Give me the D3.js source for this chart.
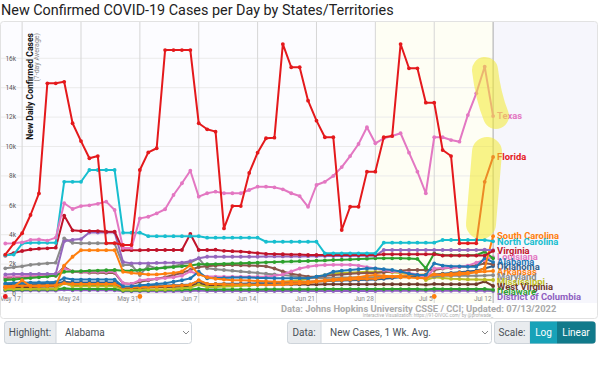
<!DOCTYPE html>
<html>
<head>
<meta charset="utf-8">
<script src="https://cdn.jsdelivr.net/npm/d3@7"></script>
<style>
  body { margin: 0; background: #fff; }
  svg { display: block; font-family: Roboto, "Helvetica Neue", Arial, sans-serif; }
</style>
</head>
<body>
<div id="chart"></div>
<script>
// ---- data (7-day average of new cases, May 15 - Jul 12, 2022) ----
const firstDay = "2022-05-15";
const xTickDays = ["2022-05-17", "2022-05-24", "2022-05-31", "2022-06-07", "2022-06-14",
  "2022-06-21", "2022-06-28", "2022-07-05", "2022-07-12"];
const yTicks = [0, 2000, 4000, 6000, 8000, 10000, 12000, 14000, 16000];
const bandStart = "2022-06-28";
const eventDays = ["2022-05-15", "2022-05-31", "2022-07-05"];

const florida = [2650,3400,4100,5340,6810,14300,14300,14400,11580,10370,9200,9350,3410,3430,
  3300,3300,8400,9600,9880,16560,16560,16560,16560,11580,
  11170,11010,4430,5950,5950,8200,9580,10560,10600,16970,15390,15390,13120,11760,10630,10630,4320,5900,5900,8290,8290,
  10630,10710,16970,15320,15320,12980,12980,9760,9350,3410,3410,3410,7600,9290];
const texas = [3400,3420,3480,3650,3680,3600,3800,6140,5750,5950,6000,6100,6250,5680,
  3100,3100,5110,5220,5450,5730,6700,7500,8350,6590,
  6820,6930,6820,6820,6820,7040,7270,7270,7220,7090,6820,6630,5900,7380,7600,8000,8600,9350,10170,11310,10220,
  10560,10710,10900,9580,8290,6820,10630,10630,10440,10330,12140,13620,15430,12070];
const northCarolina = [2600,2650,3400,3450,3450,3450,3450,7600,7600,7600,8400,8400,8400,8400,
  4140,4140,4140,3900,3900,3900,3900,3900,3900,3900,
  3800,3800,3800,3800,3800,3800,3800,3520,3520,3520,3520,3520,3520,3520,2730,2730,2730,2730,2730,2730,2730,
  3460,3460,3460,3460,3460,3460,3460,3640,3640,3640,3640,3640,3640,3550];
const virginia = [2570,2750,2890,3000,3050,3070,3120,5300,4300,4250,4250,4250,4200,4200,
  2950,2950,2950,2960,2960,2960,2960,2960,4050,2960,
  2960,2980,2900,2880,2850,2800,2750,2700,2680,2670,2650,2650,2620,2620,2620,2620,2620,2620,2620,2620,2620,
  2670,2670,2670,2670,2670,2670,2670,2580,2580,2580,2580,2580,2580,2900];
const tennessee = [1300,1320,1330,1330,1330,1330,1350,3550,3650,3700,4150,4150,4150,4150,
  2150,2050,2050,2050,2080,2100,2100,2100,2200,2400,
  2500,2500,2500,2500,2500,2500,2500,2520,2520,2520,2520,2520,2540,2540,2550,2550,2550,2550,2560,2560,2560,
  2960,2960,2960,2960,2960,2960,2960,2960,2960,2960,2960,2960,2980,2950];
const maryland = [1710,1780,1850,1950,2000,2050,2100,3750,3450,3420,3420,3420,3420,3400,
  1940,1940,1260,1900,1700,1800,1850,2000,2100,2390,
  1710,1650,1600,1550,1500,1450,1400,1350,1300,1250,1200,1100,1030,1050,1060,1070,1080,1090,1100,1100,1100,
  1150,1150,1150,1150,1150,1150,1150,1200,1200,1200,1200,1200,1220,1250];
const alabama = [700,720,730,740,750,760,780,1050,950,950,950,950,950,950,
  480,500,560,600,650,700,800,900,1030,1480,
  1030,1050,1060,1080,1080,1080,1060,1050,1040,1030,1030,1030,1030,1150,1250,1480,1550,1600,1650,1700,1710,
  1650,1600,1500,1350,1260,1260,2050,1900,1850,1850,1820,1820,2400,2140];
const louisiana = [1150,1150,1180,1200,1200,1220,1250,1710,1500,1480,1480,1480,1480,1480,
  700,650,900,950,1000,1050,1100,1200,1500,1300,
  1150,1150,1140,1140,1140,1140,1140,1150,1200,1300,1500,1700,1820,1900,1940,1950,1950,1950,1900,1800,1700,
  1600,1500,1480,1400,1300,1050,1700,1730,1750,1800,1900,2100,2280,2480];
const georgia = [920,960,1000,1050,1100,1150,1220,1480,1500,1520,1540,1560,1580,1600,
  1550,1550,1600,1650,1700,1750,1800,1850,1900,1990,
  1990,2000,2020,2040,2060,2080,2100,2120,2140,2160,2180,2200,2210,2230,2250,2280,2300,2320,2340,2370,2390,
  2390,2390,2390,2380,2350,1710,2730,2600,2600,2600,2600,2600,2840,2390];
const kentucky = [1050,1080,1100,1120,1150,1180,1200,1820,1480,1450,1420,1420,1400,1400,
  690,650,800,900,1000,1100,1260,1400,1600,1800,
  1850,1900,1940,1940,1920,1900,1880,1850,1700,1500,1350,1250,1150,1140,1200,1250,1300,1350,1380,1400,1400,
  1450,1500,1550,1600,1600,1600,1600,1700,1750,1800,1850,1900,2050,1990];
const southCarolina = [400,450,900,500,500,520,540,1900,2500,2950,2950,2950,2950,2950,
  1480,1400,1350,1300,1300,1350,1400,1500,1940,1300,
  1100,1000,950,900,900,880,850,830,800,800,800,800,800,850,900,950,1000,1050,1100,1200,1260,
  1200,1150,1100,1080,1050,1030,1300,1250,1250,1300,1350,1480,1730,3900];
const arkansas = [500,510,520,530,540,550,560,700,650,650,650,650,650,650,
  400,400,420,450,480,500,520,550,600,900,
  650,640,630,620,620,610,600,600,600,620,650,680,700,800,850,900,920,950,980,1000,1000,
  1100,1150,1200,1250,1280,1300,1300,1300,1350,1400,1420,1450,1500,1530];
const oklahoma = [600,610,620,630,640,650,660,800,750,750,750,750,740,740,
  450,450,480,500,520,540,560,580,620,850,
  650,650,660,660,670,680,690,700,720,740,760,780,800,820,840,860,880,900,920,940,950,
  1000,1050,1100,1150,1200,1220,1300,1350,1400,1450,1500,1550,1700,1870];
const mississippi = [300,300,310,310,320,320,330,700,500,500,500,500,500,500,
  250,250,260,270,280,290,300,350,400,600,
  450,450,480,500,520,550,600,650,700,800,850,900,1000,1150,1250,1370,1400,1420,1450,1480,1480,
  1480,1450,1400,1350,1300,920,1100,1050,1000,980,960,950,940,920];
const westVirginia = [420,430,440,450,460,470,480,700,560,550,550,550,550,550,
  350,350,380,400,420,440,460,480,500,700,
  550,560,570,580,590,600,610,620,620,620,620,620,620,620,630,630,630,630,630,630,630,
  630,630,630,630,630,600,650,630,630,630,630,630,820,510];
const delaware = [250,255,260,265,270,275,280,350,300,300,300,300,300,300,
  200,200,210,220,230,240,250,260,270,320,
  280,280,280,280,280,280,280,290,290,290,290,290,290,290,300,300,300,300,300,300,300,
  300,300,300,300,300,280,320,300,300,300,300,300,310,250];
const districtOfColumbia = [200,200,200,200,200,200,200,260,220,220,220,220,220,220,
  150,150,150,160,160,160,160,160,170,200,
  170,170,170,170,170,170,170,170,170,170,170,170,170,170,170,170,170,170,170,170,170,
  180,180,180,180,180,180,180,180,180,180,180,180,180,170];

// drawn bottom to top; label=false means the name tag is hidden by overlap in the original
const states = [
  { name: "District of Columbia", values: districtOfColumbia, color: "#8e5fc0", label: true },
  { name: "Delaware", values: delaware, color: "#2ca02c", label: true },
  { name: "West Virginia", values: westVirginia, color: "#6e3a2a", label: true },
  { name: "Mississippi", values: mississippi, color: "#bcbd22", label: true },
  { name: "Maryland", values: maryland, color: "#8a8a8a", label: true },
  { name: "Oklahoma", values: oklahoma, color: "#2f5f8f", label: true },
  { name: "Arkansas", values: arkansas, color: "#ff7f0e", label: true },
  { name: "Kentucky", values: kentucky, color: "#8c564b", label: false },
  { name: "Louisiana", values: louisiana, color: "#e377c2", label: true },
  { name: "Alabama", values: alabama, color: "#1f77b4", label: true },
  { name: "Georgia", values: georgia, color: "#2ca02c", label: false },
  { name: "South Carolina", values: southCarolina, color: "#ff7f0e", label: true },
  { name: "Tennessee", values: tennessee, color: "#9467bd", label: false },
  { name: "Virginia", values: virginia, color: "#c0132a", label: true },
  { name: "North Carolina", values: northCarolina, color: "#17becf", label: true },
  { name: "Texas", values: texas, color: "#e377c2", label: true },
  { name: "Florida", values: florida, color: "#e4191c", label: true }
];

// ---- chart ----
const W = 600, H = 384;
const parse = d3.timeParse("%Y-%m-%d");
const day0 = parse(firstDay);
const dates = d3.timeDay.range(day0, d3.timeDay.offset(day0, florida.length));
const plot = { left: 1, right: 493, top: 22, bottom: 303, edge: 597 };

const x = d3.scaleTime().domain([dates[0], dates[dates.length - 1]]).range([5.3, 493.1]);
const y = d3.scaleLinear().domain([0, 16000]).range([293.5, 58.3]);

const svg = d3.select("#chart").append("svg").attr("width", W).attr("height", H);

const title = svg.append("text")
  .attr("x", 1).attr("y", 15)
  .attr("font-size", 15).attr("fill", "#222")
  .text("New Confirmed COVID-19 Cases per Day by States/Territories");
// fit the title to the width it takes in the original
const tw = title.node().getComputedTextLength();
title.attr("font-size", 15 * 393 / tw);

// backgrounds
svg.append("rect").attr("x", plot.left).attr("y", plot.top)
  .attr("width", plot.right - plot.left).attr("height", plot.bottom - plot.top).attr("fill", "#fcfcff");
svg.append("rect").attr("x", x(parse(bandStart))).attr("y", plot.top)
  .attr("width", plot.right - x(parse(bandStart))).attr("height", plot.bottom - plot.top).attr("fill", "#fefef4");
svg.append("rect").attr("x", plot.right).attr("y", plot.top)
  .attr("width", plot.edge - plot.right).attr("height", plot.bottom - plot.top).attr("fill", "#f6f6fc");

// grid
svg.append("g").selectAll("line").data(yTicks).join("line")
  .attr("x1", plot.left).attr("x2", plot.right)
  .attr("y1", d => y(d)).attr("y2", d => y(d))
  .attr("stroke", "#ebebeb");

svg.append("g").selectAll("line").data(xTickDays).join("line")
  .attr("x1", d => x(parse(d))).attr("x2", d => x(parse(d)))
  .attr("y1", plot.top).attr("y2", plot.bottom)
  .attr("stroke", (d, i) => i === xTickDays.length - 1 ? "#aaa" : "#d6d6d6");

// axis labels
svg.append("g").selectAll("text").data(yTicks).join("text")
  .attr("x", 16).attr("y", d => y(d)).attr("dy", "0.35em")
  .attr("text-anchor", "end").attr("font-size", 6.5).attr("fill", "#555")
  .text(d => d === 0 ? "0" : d / 1000 + "k");

const fmt = d3.timeFormat("%b %-d");
svg.append("g").selectAll("text").data(xTickDays).join("text")
  .attr("x", d => x(parse(d)) - 1.5).attr("y", 300.5)
  .attr("text-anchor", "end").attr("font-size", 6.5).attr("fill", "#888")
  .text(d => fmt(parse(d)));

svg.append("text")
  .attr("transform", "translate(32.5,33) rotate(-90)")
  .attr("text-anchor", "end").attr("font-size", 8.6).attr("font-weight", "bold").attr("fill", "#111")
  .text("New Daily Confirmed Cases");
svg.append("text")
  .attr("transform", "translate(38.5,33) rotate(-90)")
  .attr("text-anchor", "end").attr("font-size", 7).attr("fill", "#888")
  .text("(7-day Average)");

// lines
const line = d3.line().x((d, i) => x(dates[i])).y(d => y(d));
const series = svg.append("g");
states.forEach(s => {
  const g = series.append("g");
  g.append("path").datum(s.values)
    .attr("d", line).attr("fill", "none")
    .attr("stroke", s.color).attr("stroke-width", 2).attr("stroke-linejoin", "round");
  g.selectAll("circle").data(s.values).join("circle")
    .attr("cx", (d, i) => x(dates[i])).attr("cy", d => y(d))
    .attr("r", 1.9).attr("fill", s.color);
});

// end labels, pushed apart when they collide
const last = dates.length - 1;
const tags = states.filter(s => s.label)
  .map(s => ({ name: s.name, color: s.color, ty: y(s.values[last]) }))
  .sort((a, b) => a.ty - b.ty);
for (let i = 1; i < tags.length; i++) {
  tags[i].ty = Math.max(tags[i].ty, tags[i - 1].ty + 5);
}
svg.append("g").selectAll("text").data(tags).join("text")
  .attr("x", x(dates[last]) + 4).attr("y", d => d.ty).attr("dy", "0.35em")
  .attr("font-size", 9.4).attr("font-weight", "bold").attr("fill", d => d.color)
  .text(d => d.name);

// event markers on the date axis
const eventColors = ["#e4191c", "#ff7f0e", "#ff7f0e"];
svg.append("g").selectAll("circle").data(eventDays).join("circle")
  .attr("cx", d => x(parse(d))).attr("cy", 296.5).attr("r", 2.4)
  .attr("fill", (d, i) => eventColors[i]);

// yellow hand-drawn highlights
const marks = [
  "M485,70 Q488,96 496,116",
  "M487,152 L481,224"
];
svg.append("g").selectAll("path").data(marks).join("path")
  .attr("d", d => d).attr("fill", "none")
  .attr("stroke", "#f2ea30").attr("stroke-opacity", 0.55)
  .attr("stroke-width", (d, i) => i === 0 ? 26 : 30).attr("stroke-linecap", "round");

// footer
svg.append("text")
  .attr("x", 281).attr("y", 312)
  .attr("font-size", 9.4).attr("font-weight", "bold").attr("fill", "#aaa")
  .text("Data: Johns Hopkins University CSSE / CCI; Updated: 07/13/2022");
svg.append("text")
  .attr("x", 493).attr("y", 316.8).attr("text-anchor", "end")
  .attr("font-size", 4.6).attr("fill", "#aaa")
  .text("Interactive Visualization: https://91-DIVOC.com/ by @profwade_");

// card frame
svg.append("rect").attr("x", 0.5).attr("y", plot.top - 0.5)
  .attr("width", plot.edge).attr("height", 297).attr("rx", 3)
  .attr("fill", "none").attr("stroke", "#e2e2e2");

// controls row
function group(x0, x1, labelEnd, label) {
  const g = svg.append("g");
  g.append("rect").attr("x", x0 + 0.5).attr("y", 321.5).attr("width", x1 - x0).attr("height", 22)
    .attr("rx", 3).attr("fill", "#fff").attr("stroke", "#ced4da");
  g.append("path")
    .attr("d", `M${x0 + 0.5},324.5 a3,3 0 0 1 3,-3 H${labelEnd} V343.5 H${x0 + 3.5} a3,3 0 0 1 -3,-3 Z`)
    .attr("fill", "#e9ecef").attr("stroke", "#ced4da");
  g.append("text").attr("x", (x0 + labelEnd) / 2).attr("y", 336).attr("text-anchor", "middle")
    .attr("font-size", 10).attr("fill", "#495057").text(label);
  return g;
}
function chevron(cx) {
  svg.append("path").attr("d", `M${cx - 3},331 L${cx},334 L${cx + 3},331`)
    .attr("fill", "none").attr("stroke", "#777").attr("stroke-width", 0.9);
}
group(4, 191, 56, "Highlight:");
svg.append("text").attr("x", 65).attr("y", 336).attr("font-size", 10).attr("fill", "#495057").text("Alabama");
chevron(186);
group(287, 491, 321, "Data:");
svg.append("text").attr("x", 330).attr("y", 336).attr("font-size", 10).attr("fill", "#495057").text("New Cases, 1 Wk. Avg.");
chevron(485);
group(494, 595, 530, "Scale:");
svg.append("rect").attr("x", 530).attr("y", 321.5).attr("width", 27).attr("height", 22).attr("fill", "#17a2b8");
svg.append("path").attr("d", "M557,321.5 H592.5 a3,3 0 0 1 3,3 V340.5 a3,3 0 0 1 -3,3 H557 Z").attr("fill", "#117a8b");
svg.append("text").attr("x", 543.5).attr("y", 336).attr("text-anchor", "middle")
  .attr("font-size", 10).attr("fill", "#fff").text("Log");
svg.append("text").attr("x", 576).attr("y", 336).attr("text-anchor", "middle")
  .attr("font-size", 10).attr("fill", "#fff").text("Linear");
</script>
</body>
</html>
